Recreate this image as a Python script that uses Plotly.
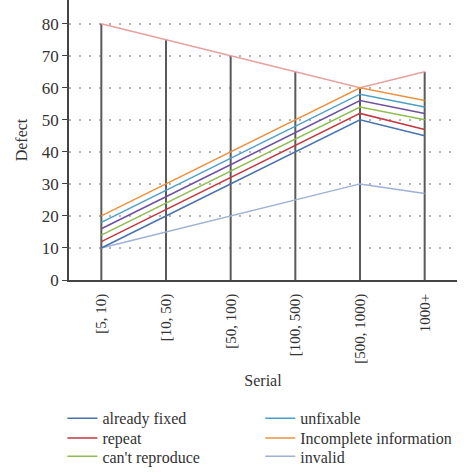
import plotly.graph_objects as go

categories = ["[5, 10)", "[10, 50)", "[50, 100)", "[100, 500)", "[500, 1000)", "1000+"]
already_fixed = [10, 20, 30, 40, 50, 45]
repeat = [12, 22, 32, 42, 52, 47]
cant_reproduce = [14, 24, 34, 44, 54, 50]
purple_series = [16, 26, 36, 46, 56, 52]
unfixable = [18, 28, 38, 48, 58, 54]
incomplete = [20, 30, 40, 50, 60, 56]
invalid = [10, 15, 20, 25, 30, 27]
upper = [80, 75, 70, 65, 60, 65]

FONT = "Liberation Serif, DejaVu Serif, serif"
TXT = "#333333"

fig = go.Figure()

# vertical stems from 0 to upper series
vx, vy = [], []
for c, u in zip(categories, upper):
    vx += [c, c, None]
    vy += [0, u, None]
fig.add_trace(go.Scatter(x=vx, y=vy, mode="lines", line=dict(color="#5a5a5a", width=2),
                         showlegend=False, hoverinfo="skip"))

fig.add_trace(go.Scatter(x=categories, y=upper, mode="lines", line=dict(color="#e8a09c", width=1.5),
                         showlegend=False))
fig.add_trace(go.Scatter(x=categories, y=invalid, mode="lines", name="invalid",
                         line=dict(color="#9db0d6", width=1.5), legend="legend6"))
fig.add_trace(go.Scatter(x=categories, y=already_fixed, mode="lines", name="already fixed",
                         line=dict(color="#4673ae", width=1.5), legend="legend"))
fig.add_trace(go.Scatter(x=categories, y=repeat, mode="lines", name="repeat",
                         line=dict(color="#c0393f", width=1.5), legend="legend2"))
fig.add_trace(go.Scatter(x=categories, y=cant_reproduce, mode="lines", name="can't reproduce",
                         line=dict(color="#8fbc4f", width=1.5), legend="legend3"))
fig.add_trace(go.Scatter(x=categories, y=purple_series, mode="lines",
                         line=dict(color="#6f4f9e", width=1.5), showlegend=False))
fig.add_trace(go.Scatter(x=categories, y=unfixable, mode="lines", name="unfixable",
                         line=dict(color="#4b9ec9", width=1.5), legend="legend4"))
fig.add_trace(go.Scatter(x=categories, y=incomplete, mode="lines", name="Incomplete information",
                         line=dict(color="#ea9240", width=1.5), legend="legend5"))

row_y = [-0.494, -0.565, -0.630]
col_x = [-0.017, 0.493]


def leg(x, y):
    return dict(x=x, y=y, xanchor="left", yanchor="middle",
                font=dict(family=FONT, size=16, color=TXT), bgcolor="rgba(0,0,0,0)",
                itemwidth=30)


fig.update_layout(
    width=474, height=474,
    margin=dict(l=69, r=17, t=0, b=192),
    paper_bgcolor="white", plot_bgcolor="white",
    font=dict(family=FONT, size=15, color=TXT),
    legend=leg(col_x[0], row_y[0]),
    legend2=leg(col_x[0], row_y[1]),
    legend3=leg(col_x[0], row_y[2]),
    legend4=leg(col_x[1], row_y[0]),
    legend5=leg(col_x[1], row_y[1]),
    legend6=leg(col_x[1], row_y[2]),
)
fig.update_xaxes(type="category", categoryorder="array", categoryarray=categories,
                 range=[-0.5, 5.5], tickangle=-90, showgrid=False, showline=True,
                 linecolor="#444444", linewidth=1.5, ticks="outside", ticklen=6, tickcolor="rgba(0,0,0,0)",
                 zeroline=False,
                 title=dict(text="Serial", font=dict(family=FONT, size=16), standoff=12),
                 tickfont=dict(family=FONT, size=15, color=TXT))
fig.update_yaxes(range=[0, 87.4], tickvals=[0, 10, 20, 30, 40, 50, 60, 70, 80],
                 showgrid=True, gridcolor="#b5b5b5", griddash="2px,8px", gridwidth=1.5,
                 showline=True, linecolor="#444444", linewidth=1.5, ticks="outside",
                 ticklen=5, tickcolor="#444444", zeroline=False,
                 title=dict(text="Defect", font=dict(family=FONT, size=16), standoff=10),
                 tickfont=dict(family=FONT, size=17, color=TXT))

fig.write_html("out.html")
